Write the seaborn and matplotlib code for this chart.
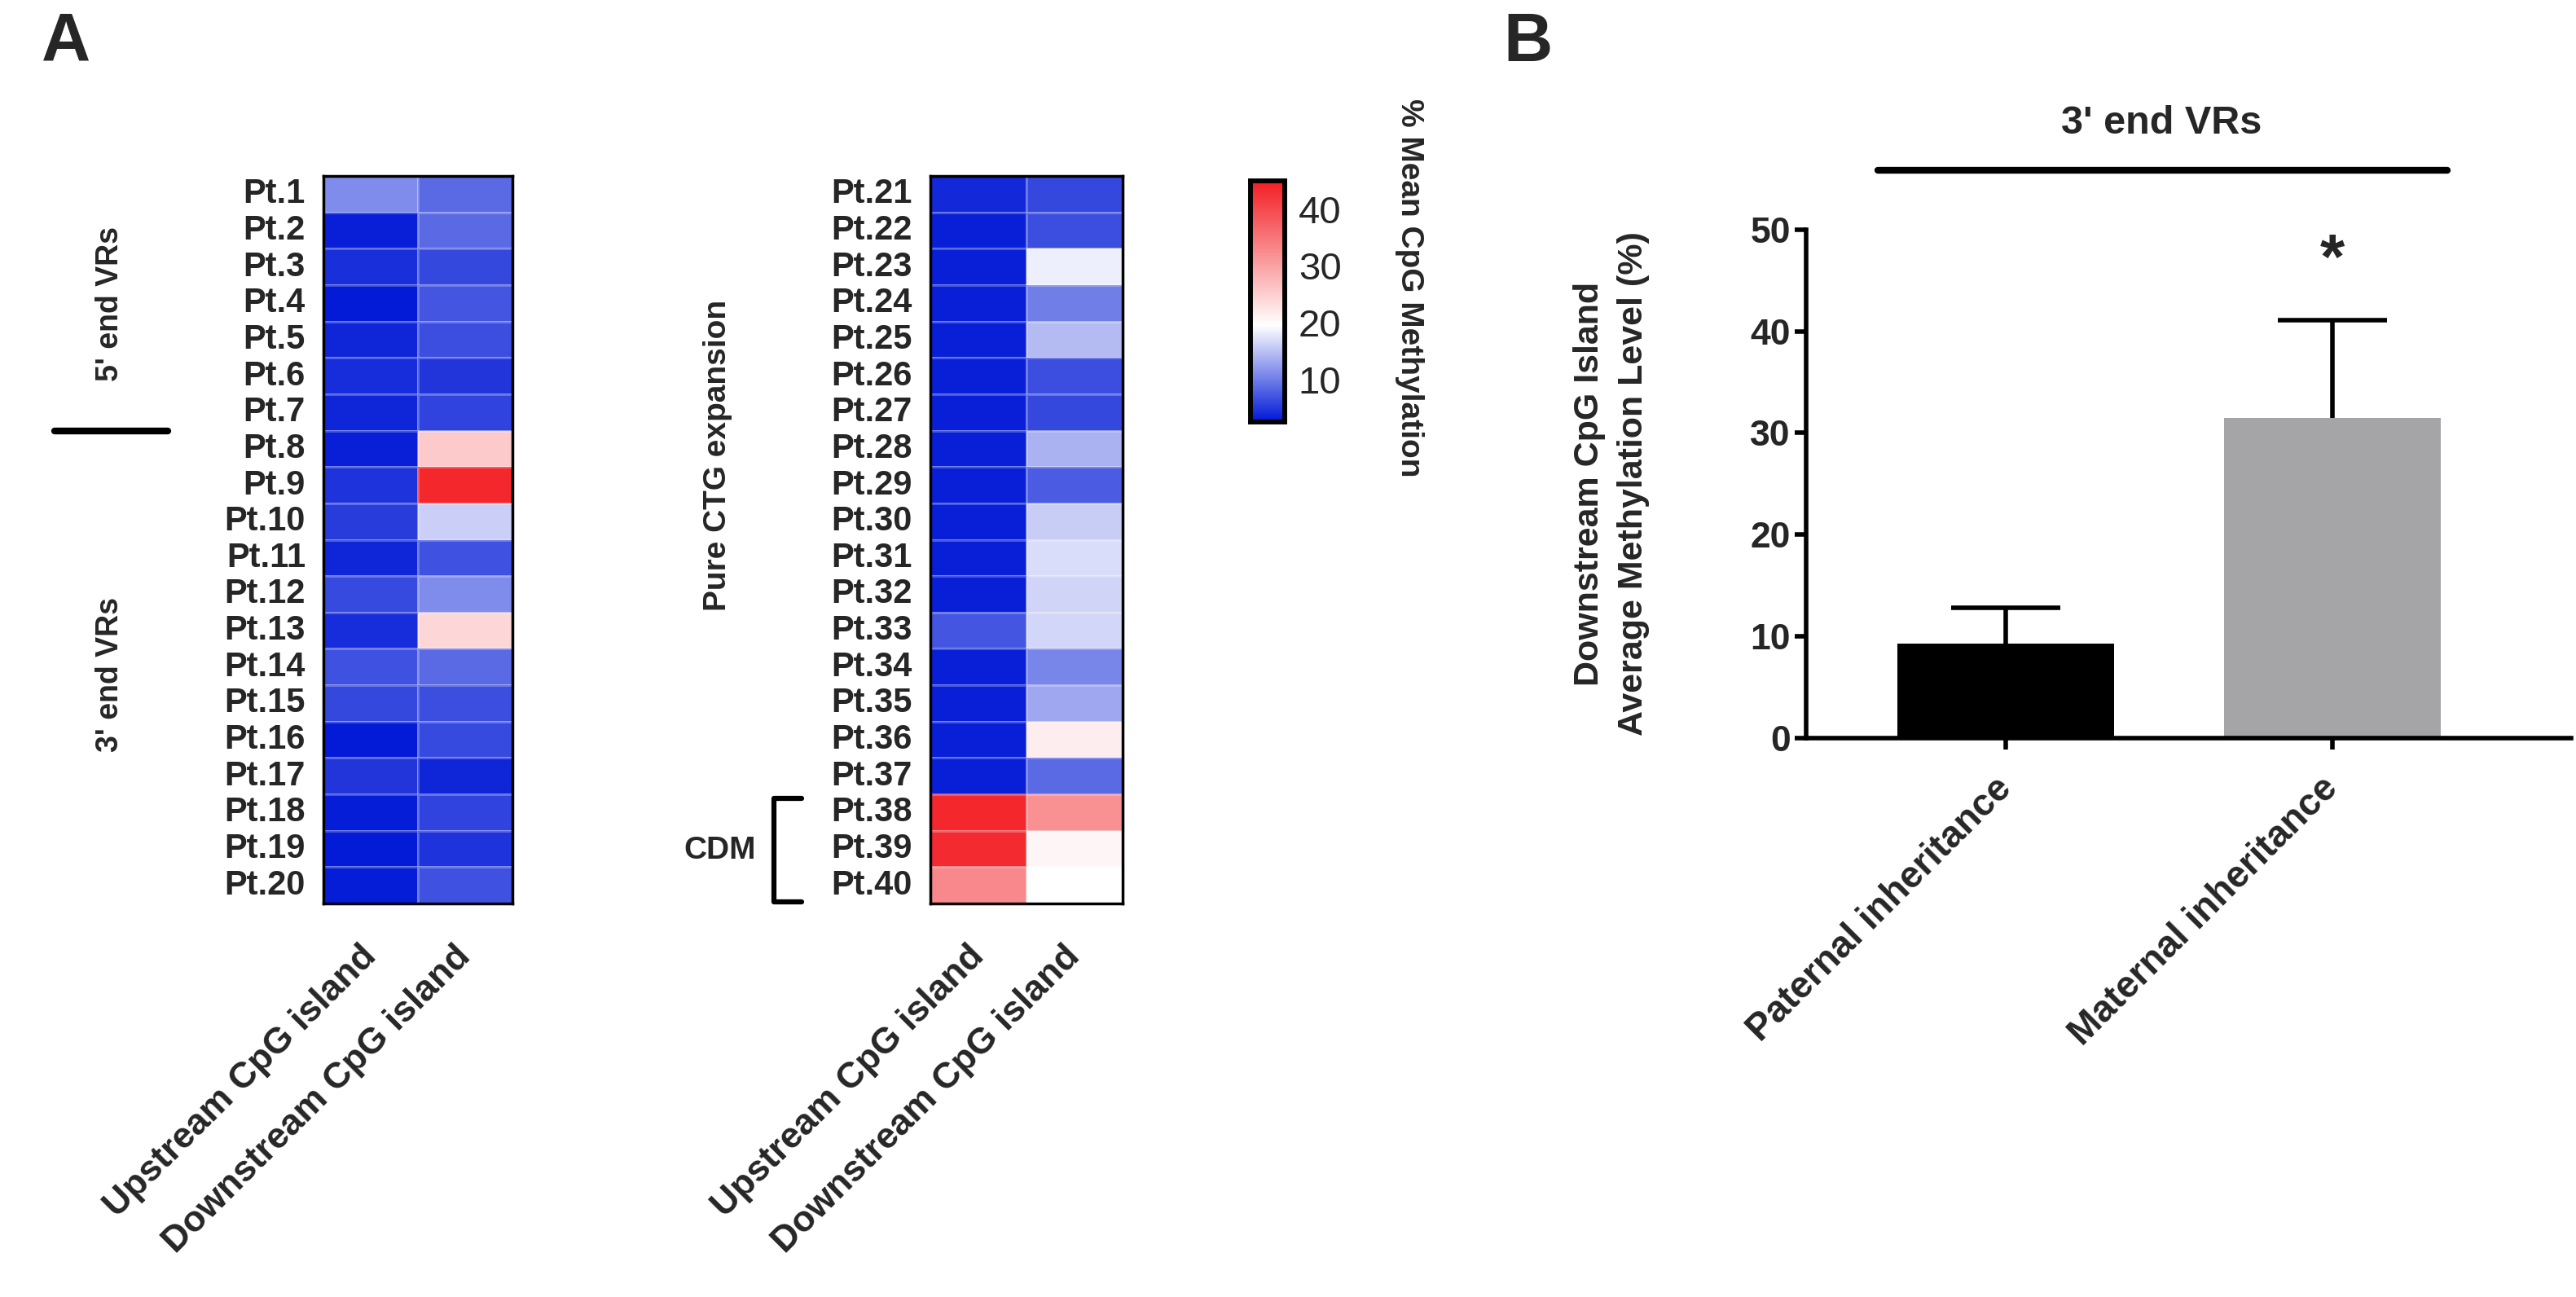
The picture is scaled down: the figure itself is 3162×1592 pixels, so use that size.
"""
Figure: CpG island methylation heatmaps (A) and inheritance bar chart (B).
"""
import numpy as np
import pandas as pd
import matplotlib
matplotlib.use('Agg')
import matplotlib.pyplot as plt
from matplotlib.colors import LinearSegmentedColormap
from matplotlib.lines import Line2D
import seaborn as sns

# ---- data ----
columns = ['Upstream CpG island', 'Downstream CpG island']

patients_a = ['Pt.%d' % i for i in range(1, 21)]
upstream_a = [11.0, 3.0, 4.3, 2.8, 3.5, 4.0, 3.5, 3.0, 4.5, 5.3,
              3.5, 6.3, 4.0, 6.8, 6.0, 2.8, 4.7, 2.9, 2.8, 2.9]
downstream_a = [8.5, 8.5, 6.0, 7.0, 6.5, 4.7, 5.7, 25.5, 44.0, 16.0,
                6.8, 11.0, 24.0, 8.5, 6.5, 6.2, 3.5, 5.7, 4.6, 6.8]

patients_b = ['Pt.%d' % i for i in range(21, 41)]
upstream_b = [3.7, 3.0, 3.0, 3.0, 3.0, 3.0, 3.0, 3.0, 3.0, 3.0,
              3.0, 3.0, 7.0, 3.0, 3.0, 3.0, 3.0, 44.0, 43.5, 33.0]
downstream_b = [6.0, 6.5, 18.3, 10.0, 14.5, 6.5, 6.0, 13.8, 7.5, 15.8,
                17.0, 16.3, 16.5, 10.5, 13.0, 21.5, 8.5, 32.0, 20.5, 19.5]

groups = ['Paternal inheritance', 'Maternal inheritance']
means = [9.3, 31.5]
sems = [3.5, 9.6]
bar_colors = ['#000000', '#A4A4A9']

VMIN, VCENTER, VMAX = 2.5, 19.5, 45.0

sns.set_style('white')
plt.rcParams['font.family'] = ['Liberation Sans', 'DejaVu Sans']

cmap = LinearSegmentedColormap.from_list(
    'bwr_custom',
    [(0.0, '#0018D6'), ((VCENTER - VMIN) / (VMAX - VMIN), '#FFFFFF'), (1.0, '#F21E23')])

df_a = pd.DataFrame({columns[0]: upstream_a, columns[1]: downstream_a}, index=patients_a)
df_b = pd.DataFrame({columns[0]: upstream_b, columns[1]: downstream_b}, index=patients_b)

fig = plt.figure(figsize=(31.62, 15.92), dpi=100)

ax1 = fig.add_axes([0.1256, 0.3034, 0.0734, 0.5609])
ax2 = fig.add_axes([0.3612, 0.3034, 0.0746, 0.5609])
cax = fig.add_axes([0.4855, 0.6746, 0.0133, 0.1860])

sns.heatmap(df_a, ax=ax1, cmap=cmap, vmin=VMIN, vmax=VMAX, cbar=False,
            linewidths=0.8, linecolor=(1, 1, 1, 0.25))
sns.heatmap(df_b, ax=ax2, cmap=cmap, vmin=VMIN, vmax=VMAX, cbar_ax=cax,
            linewidths=0.8, linecolor=(1, 1, 1, 0.25))

for ax in (ax1, ax2):
    for sp in ax.spines.values():
        sp.set_visible(True)
        sp.set_linewidth(2.5)
        sp.set_color('black')
    ax.tick_params(axis='both', length=0)
    ax.tick_params(axis='y', pad=16)
    ax.tick_params(axis='x', pad=42)
    ax.set_yticklabels(ax.get_yticklabels(), rotation=0, fontsize=30, fontweight='bold')
    ax.set_xticklabels(ax.get_xticklabels(), rotation=45, ha='right', va='center',
                       rotation_mode='anchor', fontsize=32, fontweight='bold')
    ax.set_xlabel('')
    ax.set_ylabel('')

# colorbar styling
cax.set_yticks([10, 20, 30, 40])
cax.tick_params(axis='y', direction='in', left=True, right=True, length=11, width=3.5,
                labelsize=34, pad=12)
for sp in cax.spines.values():
    sp.set_visible(True)
    sp.set_linewidth(4)
    sp.set_color('black')
fig.text(0.547, 0.778, '% Mean CpG Methylation', rotation=270, ha='center', va='center',
         fontsize=28, fontweight='bold')

# annotations left of heatmaps
fig.text(0.0427, 0.766, "5' end VRs", rotation=90, ha='center', va='center',
         fontsize=27, fontweight='bold')
fig.text(0.0427, 0.480, "3' end VRs", rotation=90, ha='center', va='center',
         fontsize=27, fontweight='bold')
fig.add_artist(Line2D([0.0212, 0.0651], [0.668, 0.668], transform=fig.transFigure,
                      color='black', lw=6, solid_capstyle='round'))

fig.text(0.2786, 0.649, 'Pure CTG expansion', rotation=90, ha='center', va='center',
         fontsize=28, fontweight='bold')
fig.text(0.2793, 0.344, 'CDM', ha='center', va='center', fontsize=28, fontweight='bold')
bx0, bx1 = 0.3004, 0.3112
by0, by1 = 1 - 1107 / 1592, 1 - 980 / 1592
fig.add_artist(Line2D([bx1, bx0, bx0, bx1], [by1, by1, by0, by0], transform=fig.transFigure,
                      color='black', lw=4.5))

# ---- panel B: bar chart ----
axb = fig.add_axes([0.701, 0.431, 0.297, 0.392])
sns.barplot(x=groups, y=means, hue=groups, palette=bar_colors, legend=False,
            width=0.663, linewidth=0, ax=axb)
# GraphPad style: only the upper half of the error bar
_, caps, _ = axb.errorbar([0, 1], means, yerr=[[0, 0], sems], fmt='none', ecolor='black',
                          elinewidth=4, capsize=48, capthick=4)
caps[0].set_visible(False)
axb.set_xlim(-0.613, 1.73)
axb.set_ylim(0, 50)
axb.set_yticks([0, 10, 20, 30, 40, 50])
sns.despine(ax=axb)
for sp in ('left', 'bottom'):
    axb.spines[sp].set_linewidth(4)
    axb.spines[sp].set_color('black')
axb.tick_params(axis='both', direction='out', length=10, width=4, color='black',
                left=True, bottom=True, labelsize=32)
plt.setp(axb.get_yticklabels(), fontweight='bold')
axb.set_xticks([0, 1])
axb.set_xticklabels(groups, rotation=45, ha='right', va='center', rotation_mode='anchor',
                    fontsize=33, fontweight='bold')
axb.tick_params(axis='x', pad=30)
axb.set_ylabel('Downstream CpG Island\nAverage Methylation Level (%)', fontsize=31,
               fontweight='bold', linespacing=1.45)
axb.yaxis.set_label_coords(-0.204, 0.5)
axb.set_xlabel('')
axb.text(1, 46.8, '*', ha='center', va='center', fontsize=56, fontweight='bold')

fig.text(0.839, 0.905, "3' end VRs", ha='center', va='center', fontsize=35, fontweight='bold')
fig.add_artist(Line2D([0.729, 0.950], [0.869, 0.869], transform=fig.transFigure,
                      color='black', lw=6, solid_capstyle='round'))

fig.text(0.0256, 0.967, 'A', ha='center', va='center', fontsize=60, fontweight='bold')
fig.text(0.593, 0.967, 'B', ha='center', va='center', fontsize=60, fontweight='bold')

plt.savefig('out.png', dpi=100)
plt.close()
